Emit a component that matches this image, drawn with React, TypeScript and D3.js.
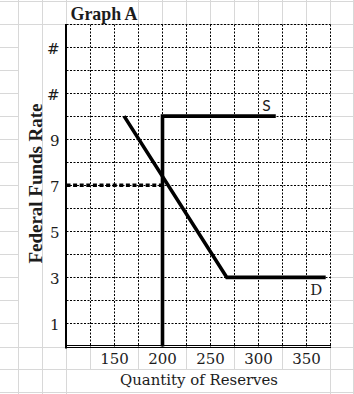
import React, {useEffect, useRef} from "react";
import * as d3 from "d3";

const xTicks = [150, 200, 250, 300, 350];
const yTicks = [1, 3, 5, 7, 9, 11, 13];
const yTickLabels = ["1", "3", "5", "7", "9", "#", "#"]; // 11 and 13 don't fit the cell
const supplyQty = [200, 200, 318];
const supplyRate = [0, 10, 10];
const demandQty = [160, 267, 370];
const demandRate = [10, 3, 3];
const markedQty = [100, 200];
const markedRate = [7, 7];

const W = 354, H = 394;

function drawSheet(svg, x, py, cell) {
    // excel cells showing around the chart
    let sheet = svg.append("g").attr("stroke", cell).attr("stroke-width", 1);
    const seg = (x1, y1, x2, y2) => sheet.append("line")
                                        .attr("x1", x1).attr("y1", y1)
                                        .attr("x2", x2).attr("y2", y2);
    const cols = d3.range(0, 15).map(i => 18.5 + 24 * i);
    const top = py(14), bottom = py(0);
    cols.forEach(cx => {
        if (cx < 70) { seg(cx, 0, cx, H); return; }
        if (cx > 330) { seg(cx, 0, cx, top); seg(cx, bottom, cx, H); return; }
        if (cx > 120) seg(cx, 0, cx, top);              // "Graph A" hides the first two
        if (!xTicks.some(t => Math.abs(x(t) - cx) < 2)) seg(cx, bottom, cx, 369.5);
    });
    seg(353.5, 0, 353.5, H);

    [1.5, 369.5, 392.5, top, bottom].forEach(ry => seg(0, ry, W, ry));
    d3.range(1, 14).forEach(v => {
        seg(0, py(v), 18.5, py(v));
        seg(330.5, py(v), W, py(v));
    });
}

function drawChart(node) {
    const svg = d3.select(node);
    svg.selectAll("*").remove();

    let x = d3.scaleLinear().domain([100, 375]).range([66.5, 330.5]),
        y = d3.scaleLinear().domain([0, 14]).range([346.5, 24]);
    const py = v => Math.round(y(v)) + 0.5;

    drawSheet(svg, x, py, "#d8d8d8");

    let graph = svg.append("g");
    graph.selectAll(".vgrid")
            .data(d3.range(125, 376, 25))
            .enter()
                .append("line")
                    .attr("x1", d => x(d)).attr("x2", d => x(d))
                    .attr("y1", py(14)).attr("y2", py(0))
                    .attr("stroke", "#000")
                    .attr("stroke-dasharray", "2,1.5");
    graph.selectAll(".hgrid")
            .data(d3.range(1, 15))
            .enter()
                .append("line")
                    .attr("x1", x(100)).attr("x2", x(375))
                    .attr("y1", d => py(d)).attr("y2", d => py(d))
                    .attr("stroke", "#000")
                    .attr("stroke-dasharray", "2,1.5");

    // axes: thick left, double bottom
    graph.append("line")
            .attr("x1", 66).attr("x2", 66)
            .attr("y1", 24).attr("y2", 348.5)
            .attr("stroke", "#000").attr("stroke-width", 2);
    [345.5, 347.5].forEach(ay => graph.append("line")
            .attr("x1", 65).attr("x2", 331)
            .attr("y1", ay).attr("y2", ay)
            .attr("stroke", "#000").attr("stroke-width", 1.1));

    const line = d3.line().x(d => x(d[0])).y(d => y(d[1]));

    graph.append("path")
            .attr("d", line(d3.zip(markedQty, markedRate)))
            .attr("fill", "none")
            .attr("stroke", "#000")
            .attr("stroke-width", 3.5)
            .attr("stroke-dasharray", "4,2.6");

    [d3.zip(supplyQty, supplyRate), d3.zip(demandQty, demandRate)].forEach(pts => {
        graph.append("path")
                .attr("d", line(pts))
                .attr("fill", "none")
                .attr("stroke", "#000")
                .attr("stroke-width", 3.6)
                .attr("stroke-linejoin", "miter");
    });

    const ink = "#1c1c1c";
    graph.selectAll(".xlab")
            .data(xTicks)
            .enter()
                .append("text")
                    .attr("x", d => x(d))
                    .attr("y", 363.5)
                    .attr("text-anchor", "middle")
                    .style("font", "15px 'DejaVu Serif'")
                    .style("fill", ink)
                    .text(d => d);
    graph.selectAll(".ylab")
            .data(yTicks)
            .enter()
                .append("text")
                    .attr("x", 59.5)
                    .attr("y", d => py(d) + 6)
                    .attr("text-anchor", "end")
                    .style("font", "15px 'DejaVu Serif'")
                    .style("fill", ink)
                    .text((d, i) => yTickLabels[i]);

    svg.append("text")
            .attr("x", 70.5).attr("y", 19.5)
            .attr("textLength", 67)
            .attr("lengthAdjust", "spacingAndGlyphs")
            .style("font", "bold 17.8px 'Liberation Serif'")
            .style("fill", ink)
            .text("Graph A");
    svg.append("text")
            .attr("transform", "translate(41.5,183.5) rotate(-90)")
            .attr("text-anchor", "middle")
            .attr("textLength", 160)
            .attr("lengthAdjust", "spacingAndGlyphs")
            .style("font", "bold 18.5px 'Liberation Serif'")
            .style("fill", ink)
            .text("Federal Funds Rate");
    svg.append("text")
            .attr("x", 199).attr("y", 385)
            .attr("text-anchor", "middle")
            .attr("textLength", 158)
            .attr("lengthAdjust", "spacingAndGlyphs")
            .style("font", "14.5px 'DejaVu Serif'")
            .style("fill", ink)
            .text("Quantity of Reserves");

    svg.append("text")
            .attr("x", 266.5).attr("y", 110.7)
            .attr("text-anchor", "middle")
            .style("font", "15.5px Lato")
            .style("fill", ink)
            .text("S");
    svg.append("text")
            .attr("x", 316.2).attr("y", 295)
            .attr("text-anchor", "middle")
            .style("font", "15px 'DejaVu Serif'")
            .style("fill", ink)
            .text("D");
}

export default function App() {
    const ref = useRef(null);
    useEffect(() => { drawChart(ref.current) });

    return <div style={{position: "absolute", left: 0, top: 0, background: "#fff"}}>
        <svg ref={ref} width={W} height={H} style={{display: "block"}}></svg>
    </div>
}
